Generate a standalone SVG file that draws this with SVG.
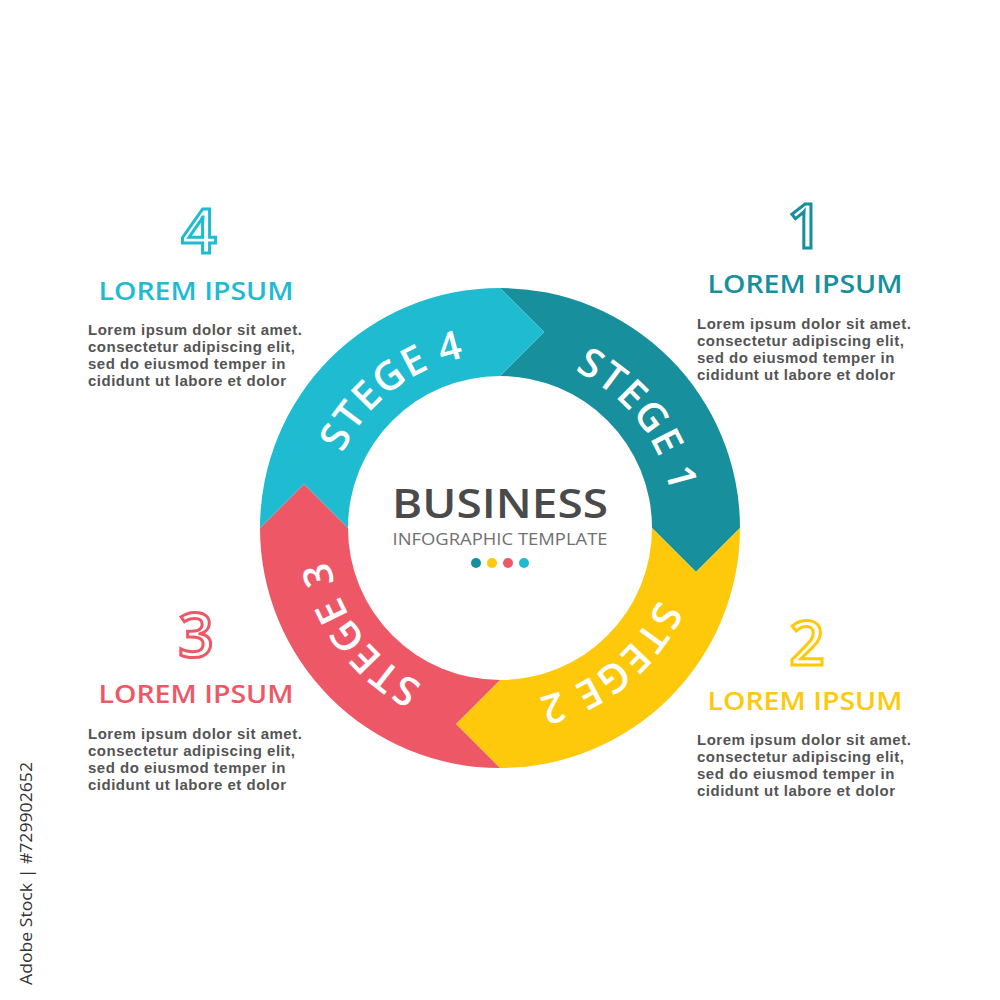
<svg xmlns="http://www.w3.org/2000/svg" width="1000" height="1000" viewBox="0 0 1000 1000">
<style>
.seg-text{font-family:"Open Sans","Liberation Sans",sans-serif;font-weight:600;font-size:40px;fill:#ffffff;letter-spacing:1.5px}
.num{font-family:"Open Sans","Liberation Sans",sans-serif;font-weight:600;font-size:62px;fill:#ffffff;stroke-width:3;text-anchor:middle}
.head{font-family:"Open Sans","Liberation Sans",sans-serif;font-weight:600;font-size:25px;text-anchor:middle}
.body{font-family:"Liberation Sans",Arial,sans-serif;font-weight:700;font-size:15px;fill:#545454;letter-spacing:0.5px}
.teal{fill:#178f9c}.yellow{fill:#fec90b}.red{fill:#ee5866}.cyan{fill:#1fbbd0}
</style>
<defs>
<path id="p1" d="M405.2,382.1 A174,174 0 0 1 618.7,655.3"/>
<path id="p2" d="M644.2,430.7 A174,174 0 0 1 374.8,648.9"/>
<path id="p3" d="M592.2,675.6 A174,174 0 0 1 383.6,398.7"/>
<path id="p4" d="M354.1,622.8 A174,174 0 0 1 627.3,409.3"/>
</defs>
<rect width="1000" height="1000" fill="#ffffff"/>

<g id="stage1">
<path class="teal" d="M500,288 A240,240 0 0 1 740,528 L696,572 L652,528 A152,152 0 0 0 500,376 L544,332 Z"/>
<text class="seg-text"><textPath href="#p1" startOffset="50%" text-anchor="middle">STEGE 1</textPath></text>
</g>
<g id="stage2">
<path class="yellow" d="M740,528 A240,240 0 0 1 500,768 L456,724 L500,680 A152,152 0 0 0 652,528 L696,572 Z"/>
<text class="seg-text"><textPath href="#p2" startOffset="50%" text-anchor="middle">STEGE 2</textPath></text>
</g>
<g id="stage3">
<path class="red" d="M500,768 A240,240 0 0 1 260,528 L304,484 L348,528 A152,152 0 0 0 500,680 L456,724 Z"/>
<text class="seg-text"><textPath href="#p3" startOffset="50%" text-anchor="middle">STEGE 3</textPath></text>
</g>
<g id="stage4">
<path class="cyan" d="M260,528 A240,240 0 0 1 500,288 L544,332 L500,376 A152,152 0 0 0 348,528 L304,484 Z"/>
<text class="seg-text"><textPath href="#p4" startOffset="50%" text-anchor="middle">STEGE 4</textPath></text>
</g>

<g id="center">
<text x="500" y="518" text-anchor="middle" font-family="Open Sans, Liberation Sans, sans-serif" font-weight="600" font-size="39" fill="#4a4a4a" textLength="216" lengthAdjust="spacingAndGlyphs">BUSINESS</text>
<text x="500" y="545" text-anchor="middle" font-family="Open Sans, Liberation Sans, sans-serif" font-weight="400" font-size="16.5" fill="#707070" textLength="215" lengthAdjust="spacingAndGlyphs">INFOGRAPHIC TEMPLATE</text>
<circle cx="476" cy="563" r="5" class="teal"/>
<circle cx="492" cy="563" r="5" class="yellow"/>
<circle cx="508" cy="563" r="5" class="red"/>
<circle cx="524" cy="563" r="5" class="cyan"/>
</g>

<g id="info1">
<text class="num" x="805" y="248" stroke="#178f9c">1</text>
<text class="head teal" x="805" y="293" textLength="195" lengthAdjust="spacingAndGlyphs">LOREM IPSUM</text>
<text class="body" x="697" y="329">Lorem ipsum dolor sit amet.</text>
<text class="body" x="697" y="346">consectetur adipiscing elit,</text>
<text class="body" x="697" y="363">sed do eiusmod temper in</text>
<text class="body" x="697" y="380">cididunt ut labore et dolor</text>
</g>
<g id="info2">
<text class="num" x="807" y="665" stroke="#fec90b">2</text>
<text class="head yellow" x="805" y="710" textLength="195" lengthAdjust="spacingAndGlyphs">LOREM IPSUM</text>
<text class="body" x="697" y="745">Lorem ipsum dolor sit amet.</text>
<text class="body" x="697" y="762">consectetur adipiscing elit,</text>
<text class="body" x="697" y="779">sed do eiusmod temper in</text>
<text class="body" x="697" y="796">cididunt ut labore et dolor</text>
</g>
<g id="info3">
<text class="num" x="196" y="657" stroke="#ee5866">3</text>
<text class="head red" x="196" y="703" textLength="195" lengthAdjust="spacingAndGlyphs">LOREM IPSUM</text>
<text class="body" x="88" y="739">Lorem ipsum dolor sit amet.</text>
<text class="body" x="88" y="756">consectetur adipiscing elit,</text>
<text class="body" x="88" y="773">sed do eiusmod temper in</text>
<text class="body" x="88" y="790">cididunt ut labore et dolor</text>
</g>
<g id="info4">
<text class="num" x="199" y="253" stroke="#1fbbd0">4</text>
<text class="head cyan" x="196" y="300" textLength="195" lengthAdjust="spacingAndGlyphs">LOREM IPSUM</text>
<text class="body" x="88" y="335">Lorem ipsum dolor sit amet.</text>
<text class="body" x="88" y="352">consectetur adipiscing elit,</text>
<text class="body" x="88" y="369">sed do eiusmod temper in</text>
<text class="body" x="88" y="386">cididunt ut labore et dolor</text>
</g>

<text transform="translate(32,985) rotate(-90)" font-family="Open Sans, Liberation Sans, sans-serif" font-size="17" fill="#333333" textLength="223" lengthAdjust="spacingAndGlyphs">Adobe Stock | #729902652</text>
</svg>
